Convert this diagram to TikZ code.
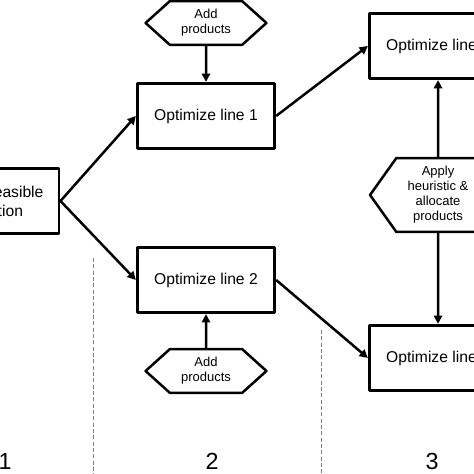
\documentclass[tikz,border=0pt]{standalone}
\usepackage{fontspec}
\setmainfont{Liberation Sans}
\usetikzlibrary{arrows.meta,shapes.symbols}
\tikzset{
  stage/.style={draw, line width=1.7pt, minimum width=2.9cm, minimum height=1.38cm, align=center, font=\fontsize{9.4}{11.4}\selectfont},
  addhex/.style={signal, signal to=west and east, draw, line width=1.5pt, align=center, inner sep=0pt, font=\fontsize{7.8}{9}\selectfont},
  flow/.style={->, line width=1.5pt},
  split/.style={gray, line width=0.6pt, dash pattern=on 2.4pt off 1.4pt},
}
\begin{document}
\begin{tikzpicture}[line join=round, >={Triangle[length=5pt,width=5pt]}]
	\useasboundingbox (0,0) rectangle (10,10);
	\clip (0,0) rectangle (10,10);
	% stage 1
	\node[stage, minimum width=2.66cm] (init) at (-0.084,5.759) {Initial feasible\\solution};
	% stage 2
	\node[stage] (opt1) at (4.346,7.553) {Optimize line 1};
	\node[stage] (opt2) at (4.346,4.093) {Optimize line 2};
	\node[addhex, minimum width=2.55cm, minimum height=0.92cm, signal pointer angle=84] (add1) at (4.346,9.515) {Add\\products};
	\node[addhex, minimum width=2.55cm, minimum height=0.92cm, signal pointer angle=84] (add2) at (4.346,2.173) {Add\\products};
	% stage 3
	\node[stage] (opt3) at (9.241,9.030) {Optimize line 1};
	\node[stage] (opt4) at (9.241,2.447) {Optimize line 2};
	\node[addhex, minimum width=2.87cm, minimum height=1.56cm, signal pointer angle=109] (heur) at (9.241,5.886) {Apply\\heuristic \&\\allocate\\products};
	\draw[flow] (init.east) -- (opt1.west);
	\draw[flow] (init.east) -- (opt2.west);
	\draw[flow] (add1) -- (opt1);
	\draw[flow] (add2) -- (opt2);
	\draw[flow] (opt1.east) -- (opt3.west);
	\draw[flow] (opt2.east) -- (opt4.west);
	\draw[flow] (heur) -- (opt3);
	\draw[flow] (heur) -- (opt4);
	\draw[split] (1.962,4.557) -- (1.962,0);
	\draw[split] (6.793,3.038) -- (6.793,0);
	\foreach \n/\x in {1/0.11, 2/4.473, 3/9.114}
		\node[font=\fontsize{14}{16}\selectfont] (num\n) at (\x,0.274) {\n};
\end{tikzpicture}
\end{document}
